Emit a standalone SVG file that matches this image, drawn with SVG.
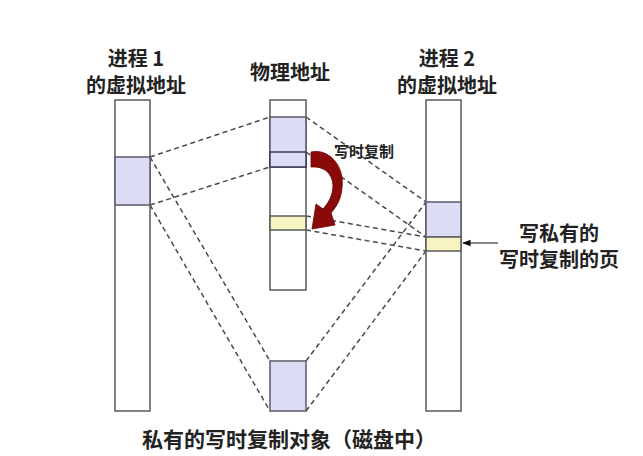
<svg xmlns="http://www.w3.org/2000/svg" width="643" height="456" viewBox="0 0 643 456">
<defs>
<style>
.col{fill:#ffffff;stroke:#5a5a5a;stroke-width:1.5}
.pur{fill:#dcdcf5;stroke:#5a5a6a;stroke-width:1.5}
.yel{fill:#f6f4c0;stroke:#5a5a5a;stroke-width:1.5}
.t{font-family:"Noto Sans CJK SC","Liberation Sans",sans-serif;font-weight:bold;fill:#222;text-anchor:middle}
.big{font-size:20px}
.sm{font-size:15px}
.dash{fill:none;stroke:#4a4a4a;stroke-width:1.5;stroke-dasharray:5 3.5}
</style>
<marker id="ah" viewBox="0 0 10 10" refX="9" refY="5" markerWidth="7" markerHeight="7" orient="auto">
<path d="M0,1 L10,5 L0,9 Z" fill="#111"/>
</marker>
</defs>
<rect width="643" height="456" fill="#ffffff"/>

<g id="connectors">
<line class="dash" x1="150" y1="157" x2="270" y2="117"/>
<line class="dash" x1="150" y1="205" x2="270" y2="167"/>
<line class="dash" x1="150" y1="157" x2="270" y2="361"/>
<line class="dash" x1="150" y1="205" x2="270" y2="411"/>
<line class="dash" x1="306" y1="117" x2="426" y2="202"/>
<line class="dash" x1="306" y1="152" x2="426" y2="237"/>
<line class="dash" x1="306" y1="216" x2="426" y2="237"/>
<line class="dash" x1="306" y1="230" x2="426" y2="251"/>
<line class="dash" x1="306" y1="361" x2="426" y2="202"/>
<line class="dash" x1="306" y1="411" x2="426" y2="251"/>
<line x1="498" y1="243" x2="463" y2="243" stroke="#111" stroke-width="1.2" marker-end="url(#ah)"/>
</g>

<g id="proc1">
<text class="t big" x="136" y="66">进程 1</text>
<text class="t big" x="136" y="93">的虚拟地址</text>
<rect class="col" x="115" y="100" width="35" height="311"/>
<rect class="pur" x="115" y="157" width="35" height="48"/>
</g>

<g id="phys">
<text class="t big" x="290" y="80">物理地址</text>
<rect class="col" x="270" y="100" width="36" height="190"/>
<rect class="pur" x="270" y="117" width="36" height="50"/>
<rect x="270" y="152" width="36" height="15" fill="#dcdcf5" stroke="#3a3a5a" stroke-width="1.5"/>
<rect class="yel" x="270" y="216" width="36" height="14"/>
</g>

<g id="proc2">
<text class="t big" x="447" y="66">进程 2</text>
<text class="t big" x="447" y="93">的虚拟地址</text>
<rect class="col" x="426" y="100" width="35" height="311"/>
<rect class="pur" x="426" y="202" width="35" height="35"/>
<rect class="yel" x="426" y="237" width="35" height="14"/>
</g>

<g id="disk">
<rect class="pur" x="270" y="361" width="36" height="50"/>
<text class="t" style="font-size:21px" x="289" y="447">私有的写时复制对象（磁盘中）</text>
</g>

<g id="cow">
<path d="M311,152 C328,148 345,165 342,188 C341,199 337,206 331,213 L335,225 L312,229 L316,204 L323,209 C329,202 333,195 333,185 C332,172 323,166 311,167 Z" fill="#8a0a0a" stroke="#6a0000" stroke-width="0.8"/>
<text class="t sm" x="364" y="157">写时复制</text>
</g>

<g id="note">
<text class="t big" x="559" y="241">写私有的</text>
<text class="t big" x="559" y="267">写时复制的页</text>
</g>
</svg>
